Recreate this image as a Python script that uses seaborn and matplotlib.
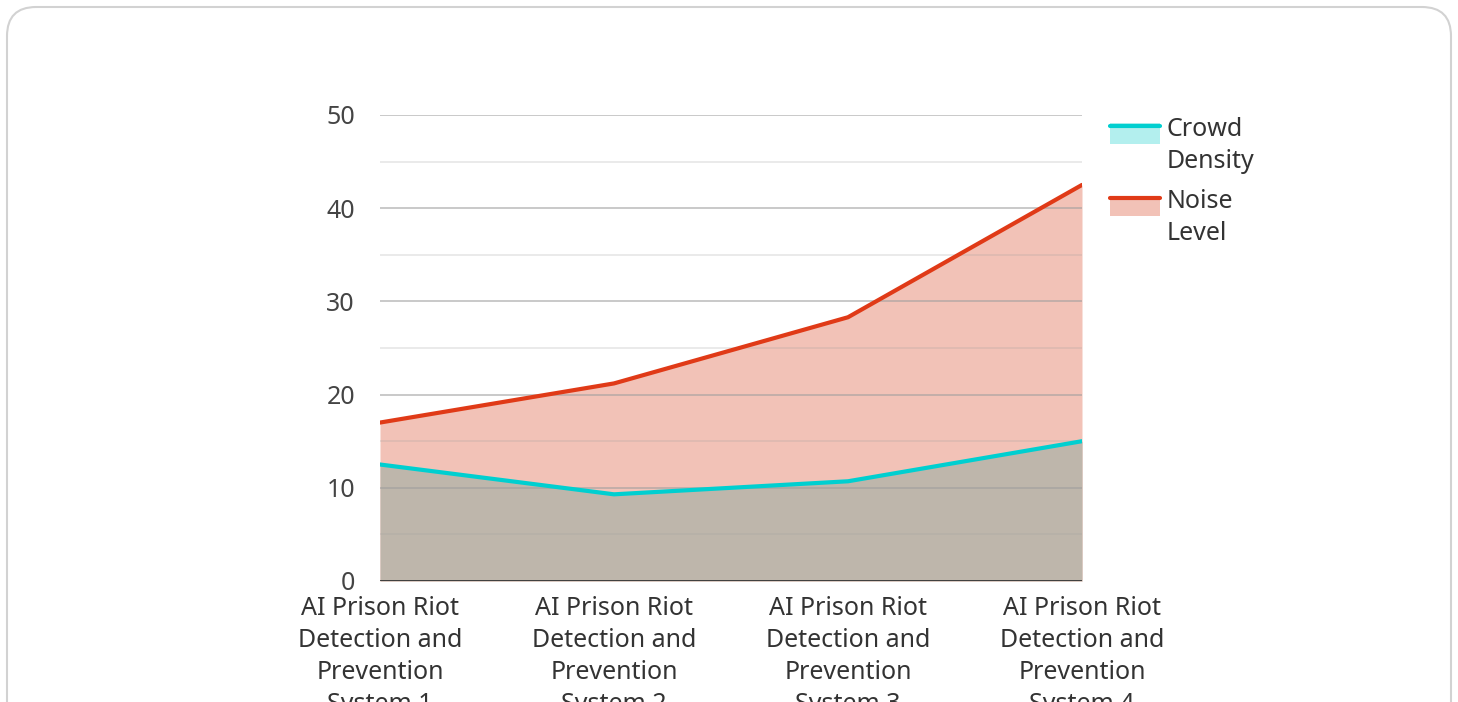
import matplotlib
matplotlib.use("Agg")
import matplotlib.pyplot as plt
import seaborn as sns
import pandas as pd
from matplotlib.patches import FancyBboxPatch, Rectangle
from matplotlib.lines import Line2D
from matplotlib.legend_handler import HandlerBase

categories = [
    "AI Prison Riot\nDetection and\nPrevention\nSystem 1",
    "AI Prison Riot\nDetection and\nPrevention\nSystem 2",
    "AI Prison Riot\nDetection and\nPrevention\nSystem 3",
    "AI Prison Riot\nDetection and\nPrevention\nSystem 4",
]
crowd_density = [12.5, 9.3, 10.7, 15.0]
noise_level = [17.0, 21.2, 28.3, 42.5]
series_names = ["Crowd\nDensity", "Noise\nLevel"]
y_ticks = [0, 10, 20, 30, 40, 50]

sns.set_theme(style="white")
plt.rcParams["font.family"] = ["Noto Sans", "DejaVu Sans"]

W, H = 1458, 702
FS = 18
fig = plt.figure(figsize=(W / 100, H / 100), dpi=100)
fig.patch.set_facecolor("white")

# card border
card = FancyBboxPatch((7 / W, -0.05), (1451 - 7) / W, (H - 7) / H + 0.05,
                      boxstyle="round,pad=0,rounding_size=0.02",
                      transform=fig.transFigure, facecolor="white",
                      edgecolor="#d2d2d2", linewidth=1.5, zorder=-5,
                      mutation_aspect=W / H)
fig.patches.append(card)

ax = fig.add_axes([380 / W, 1 - 581 / H, (1082 - 380) / W, (581 - 115) / H])
ax.set_facecolor("none")
ax.set_zorder(2)

df = pd.DataFrame({
    "x": list(range(len(categories))) * 2,
    "value": noise_level + crowd_density,
    "series": [series_names[1]] * len(categories) + [series_names[0]] * len(categories),
})

xs = list(range(len(categories)))
noise_line = "#e03a17"
noise_fill = "#f2c2b7"
crowd_line = "#00cfd0"
crowd_fill_legend = "#b3efee"
overlap_fill = "#beb6ab"

ax.fill_between(xs, 0, noise_level, color=noise_fill, linewidth=0, zorder=1)
ax.fill_between(xs, 0, crowd_density, color=overlap_fill, linewidth=0, zorder=1.1)

sns.lineplot(data=df, x="x", y="value", hue="series",
             palette={series_names[0]: crowd_line, series_names[1]: noise_line},
             linewidth=3, ax=ax, legend=False, zorder=4)

# grid
for v in range(5, 51, 5):
    if v % 10 == 0:
        ax.axhline(v, color="#9e9e9e", alpha=0.65, linewidth=1.2, zorder=2)
    else:
        ax.axhline(v, color="#9e9e9e", alpha=0.25, linewidth=1.2, zorder=2)
ax.axhline(0, color="#333333", linewidth=2, zorder=5)

ax.set_xlim(0, len(categories) - 1)
ax.set_ylim(0, 50)
ax.set_xticks(xs)
ax.set_xticklabels(categories, fontsize=FS, color="#333333", linespacing=1.36)
ax.set_yticks(y_ticks)
ax.set_yticklabels([str(v) for v in y_ticks], fontsize=FS, color="#444444")
ax.tick_params(axis="both", length=0)
ax.tick_params(axis="y", pad=18)
ax.tick_params(axis="x", pad=11)
for s in ax.spines.values():
    s.set_visible(False)
ax.set_xlabel("")
ax.set_ylabel("")


class FillLineHandler(HandlerBase):
    def __init__(self, line_color, fill_color, **kw):
        super().__init__(**kw)
        self.lc = line_color
        self.fc = fill_color

    def create_artists(self, legend, orig_handle, xdescent, ydescent, width, height, fontsize, trans):
        top = -ydescent + height
        rect = Rectangle((-xdescent, top - 15), width, 15,
                         facecolor=self.fc, edgecolor="none", transform=trans)
        line = Line2D([-xdescent, -xdescent + width], [top - 2] * 2,
                      color=self.lc, linewidth=3, transform=trans)
        return [rect, line]


h1 = Rectangle((0, 0), 1, 1)
h2 = Rectangle((0, 0), 1, 1)
leg = fig.legend([h1, h2], series_names,
                 handler_map={h1: FillLineHandler(crowd_line, crowd_fill_legend),
                              h2: FillLineHandler(noise_line, noise_fill)},
                 loc="upper left", bbox_to_anchor=(1100 / W, 1 - 107 / H),
                 frameon=False, fontsize=FS, handlelength=2.0, handleheight=2.6,
                 handletextpad=0.25, labelspacing=0.62, borderaxespad=0)
for t in leg.get_texts():
    t.set_color("#333333")
    t.set_linespacing(1.36)

fig.savefig("out.png", dpi=100)
